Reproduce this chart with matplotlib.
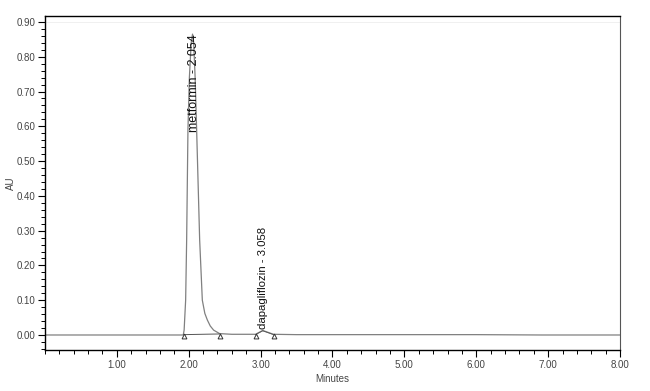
import numpy as np
import matplotlib.pyplot as plt
from matplotlib.ticker import MultipleLocator, FormatStrFormatter

# chromatogram trace (minutes, AU)
time_min = [0.00, 1.00, 1.80, 1.925, 1.937, 1.944, 1.958, 1.972, 1.99, 2.01, 2.035,
            2.054, 2.07, 2.09, 2.111, 2.153, 2.19, 2.225, 2.26, 2.30, 2.347, 2.43,
            2.60, 2.93, 3.03, 3.18, 3.50, 4.00, 5.00, 6.00, 6.90, 8.00]
absorb = [0.000, 0.000, 0.000, 0.000, 0.014, 0.043, 0.100, 0.273, 0.589, 0.740, 0.840,
          0.865, 0.840, 0.740, 0.589, 0.273, 0.100, 0.062, 0.043, 0.026, 0.014, 0.004,
          0.002, 0.002, 0.013, 0.002, 0.001, 0.001, 0.001, 0.001, 0.000, 0.000]

# integration markers (start / end of each peak)
mark_t = [1.93, 2.44, 2.93, 3.18]
mark_y = [-0.004, -0.004, -0.004, -0.004]

peak_names = ["metformin - 2.054", "dapagliflozin - 3.058"]
peak_x = [2.07, 3.03]
peak_label_y = [0.585, 0.016]
peak_font = [9.0, 8.2]

fig, ax = plt.subplots(figsize=(6.5, 3.91), dpi=100)
fig.subplots_adjust(left=0.069, right=0.954, top=0.959, bottom=0.105)

ax.plot(time_min, absorb, color='#808080', lw=0.9)
ax.plot([1.93, 2.44], [0.001, 0.003], color='#555555', lw=0.7)
ax.plot([2.93, 3.03, 3.18], [0.001, 0.012, 0.001], color='#555555', lw=0.6)
ax.plot(mark_t, mark_y, ls='none', marker='^', ms=3.5, mfc='white', mec='#333333', mew=0.7)
ax.axhline(0.90, color='#eeeeee', lw=0.6, zorder=0)

for name, x, y, fs in zip(peak_names, peak_x, peak_label_y, peak_font):
    ax.text(x, y, name, rotation=90, ha='center', va='bottom', fontsize=fs,
            family='Liberation Sans', color='#111111')

ax.set_xlim(0, 8)
ax.set_ylim(-0.043, 0.917)
ax.xaxis.set_major_locator(MultipleLocator(1))
ax.xaxis.set_minor_locator(MultipleLocator(0.2))
ax.yaxis.set_major_locator(MultipleLocator(0.1))
ax.yaxis.set_minor_locator(MultipleLocator(0.02))
ax.xaxis.set_major_formatter(FormatStrFormatter('%.2f'))
ax.yaxis.set_major_formatter(FormatStrFormatter('%.2f'))
ax.set_xticks([1, 2, 3, 4, 5, 6, 7, 8])

ax.tick_params(which='major', length=5, width=0.8, labelsize=7, labelcolor='#444444', pad=2)
ax.tick_params(which='minor', length=3, width=0.7)
for lab in ax.get_xticklabels() + ax.get_yticklabels():
    lab.set_family('Liberation Sans')

for s in ['left', 'bottom', 'top']:
    ax.spines[s].set_linewidth(1.0)
ax.spines['right'].set_color('#555555')
ax.spines['right'].set_linewidth(0.8)

ax.set_xlabel('Minutes', fontsize=7, family='Liberation Sans', color='#444444', labelpad=3)
ax.set_ylabel('AU', fontsize=7, family='Liberation Sans', color='#444444')
ax.yaxis.set_label_coords(-0.051, 0.5)

fig.savefig('out.png', dpi=100)
